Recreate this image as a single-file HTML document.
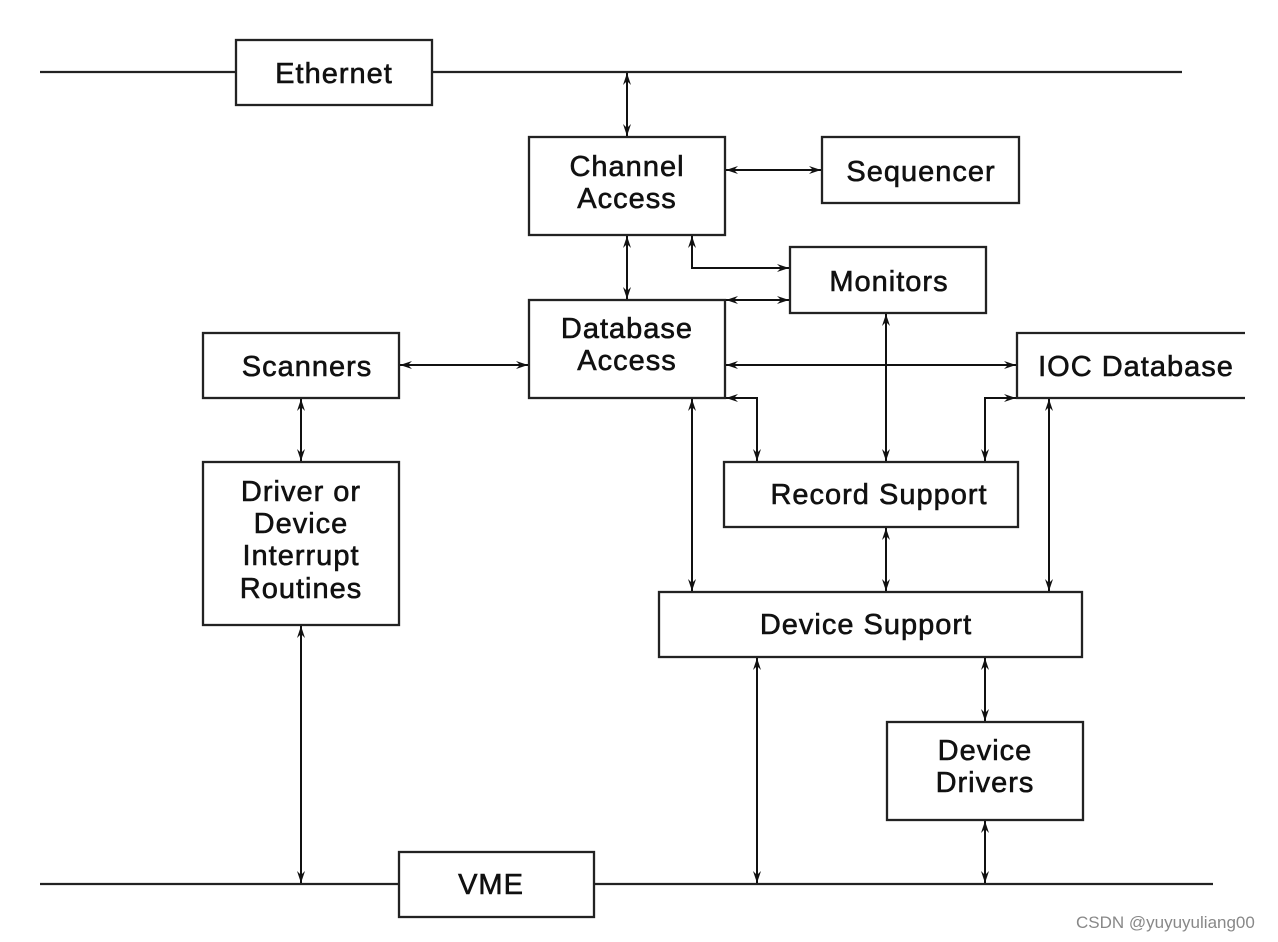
<!DOCTYPE html>
<html><head><style>
html,body{margin:0;padding:0;background:#fff;}
svg{display:block;}
text{font-family:"Liberation Sans",sans-serif;font-size:29px;fill:#111;stroke:#111;stroke-width:0.6;letter-spacing:1px;}
</style></head><body>
<svg width="1278" height="942" viewBox="0 0 1278 942" xmlns="http://www.w3.org/2000/svg">
<defs>
<marker id="a" viewBox="0 0 12 8" refX="12" refY="4" markerWidth="12" markerHeight="8" markerUnits="userSpaceOnUse" orient="auto-start-reverse">
<path d="M0,0 L12,4 L0,8 L4,4 Z" fill="#111"/></marker>
</defs>
<g stroke="#222" stroke-width="2.3" fill="none">
<line x1="40" y1="72" x2="236" y2="72"/><line x1="432" y1="72" x2="1182" y2="72"/>
<line x1="40" y1="884" x2="399" y2="884"/><line x1="594" y1="884" x2="1213" y2="884"/>
<rect x="236" y="40" width="196" height="65"/>
<rect x="529" y="137" width="196" height="98"/>
<rect x="822" y="137" width="197" height="66"/>
<rect x="790" y="247" width="196" height="66"/>
<rect x="529" y="300" width="196" height="98"/>
<rect x="203" y="333" width="196" height="65"/>
<path d="M1245,333 H1017 V398 H1245"/>
<rect x="203" y="462" width="196" height="163"/>
<rect x="724" y="462" width="294" height="65"/>
<rect x="659" y="592" width="423" height="65"/>
<rect x="887" y="722" width="196" height="98"/>
<rect x="399" y="852" width="195" height="65"/>
</g>
<g stroke="#111" stroke-width="2" fill="none" marker-start="url(#a)" marker-end="url(#a)">
<line x1="627" y1="73" x2="627" y2="136"/>
<line x1="726" y1="170" x2="821" y2="170"/>
<line x1="627" y1="236" x2="627" y2="299"/>
<path d="M692,236 V268 H789"/>
<line x1="726" y1="300" x2="789" y2="300"/>
<line x1="400" y1="365" x2="528" y2="365"/>
<line x1="726" y1="365" x2="1016" y2="365"/>
<line x1="886" y1="314" x2="886" y2="461"/>
<path d="M726,398 H757 V461"/>
<path d="M1016,398 H985 V461"/>
<line x1="692" y1="399" x2="692" y2="591"/>
<line x1="1049" y1="399" x2="1049" y2="591"/>
<line x1="886" y1="528" x2="886" y2="591"/>
<line x1="301" y1="399" x2="301" y2="461"/>
<line x1="301" y1="626" x2="301" y2="883"/>
<line x1="757" y1="658" x2="757" y2="883"/>
<line x1="985" y1="658" x2="985" y2="721"/>
<line x1="985" y1="821" x2="985" y2="883"/>
</g>
<g text-anchor="middle">
<text x="334" y="83">Ethernet</text>
<text x="627" y="176">Channel</text>
<text x="627" y="208">Access</text>
<text x="921" y="181">Sequencer</text>
<text x="889" y="291">Monitors</text>
<text x="627" y="338">Database</text>
<text x="627" y="370">Access</text>
<text x="307" y="376">Scanners</text>
<text x="1136" y="376">IOC Database</text>
<text x="301" y="501">Driver or</text>
<text x="301" y="533">Device</text>
<text x="301" y="565">Interrupt</text>
<text x="301" y="598">Routines</text>
<text x="879" y="504">Record Support</text>
<text x="866" y="634">Device Support</text>
<text x="985" y="760">Device</text>
<text x="985" y="792">Drivers</text>
<text x="491" y="894">VME</text>
</g>
<text x="1076" y="928" style="font-size:17px;fill:#888;stroke:none;letter-spacing:0">CSDN @yuyuyuliang00</text>
</svg>
</body></html>
